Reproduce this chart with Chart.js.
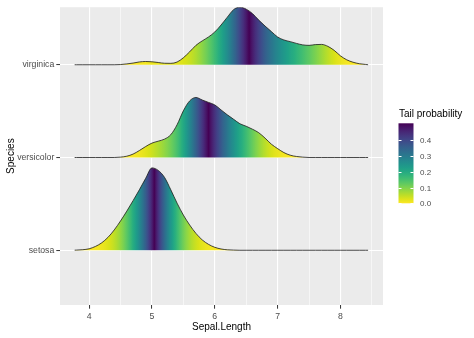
<!DOCTYPE html>
<html>
<head>
<meta charset="utf-8">
<script src="https://cdn.jsdelivr.net/npm/chart.js@4"></script>
<style>
  html, body { margin: 0; padding: 0; background: #fff; }
  #ridges { display: block; }
</style>
</head>
<body>
<canvas id="ridges" width="474" height="338"></canvas>
<script>
const species = ["setosa", "versicolor", "virginica"];

// density grid along Sepal.Length
const sepalLength = [3.77, 3.8, 3.9, 4.0, 4.1, 4.2, 4.3, 4.4, 4.5, 4.6, 4.7, 4.8, 4.9,
  5.0, 5.1, 5.2, 5.3, 5.4, 5.5, 5.6, 5.7, 5.8, 5.9, 6.0, 6.1, 6.2, 6.3, 6.4, 6.5,
  6.6, 6.7, 6.8, 6.9, 7.0, 7.1, 7.2, 7.3, 7.4, 7.5, 7.6, 7.7, 7.8, 7.9, 8.0, 8.1,
  8.2, 8.3, 8.4, 8.44];

// scaled ridge heights (in rows) at each grid point
const setosaHeight = [0.001, 0.002, 0.006, 0.016, 0.041, 0.080, 0.139, 0.219, 0.316,
  0.422, 0.535, 0.652, 0.775, 0.888, 0.861, 0.786, 0.652, 0.508, 0.380, 0.273, 0.182,
  0.112, 0.064, 0.032, 0.014, 0.005, 0.002, 0, 0, 0, 0, 0, 0, 0, 0, 0, 0, 0, 0, 0, 0,
  0, 0, 0, 0, 0, 0, 0, 0];
const versicolorHeight = [0, 0, 0, 0, 0, 0, 0, 0, 0.004, 0.014, 0.037, 0.075, 0.118,
  0.155, 0.176, 0.198, 0.246, 0.353, 0.503, 0.610, 0.647, 0.620, 0.594, 0.567, 0.513,
  0.460, 0.412, 0.364, 0.337, 0.305, 0.267, 0.209, 0.144, 0.096, 0.053, 0.025, 0.011,
  0.004, 0, 0, 0, 0, 0, 0, 0, 0, 0, 0, 0];
const virginicaHeight = [0, 0, 0, 0, 0, 0, 0, 0, 0.002, 0.009, 0.018, 0.030, 0.035,
  0.032, 0.024, 0.016, 0.015, 0.029, 0.075, 0.139, 0.209, 0.257, 0.299, 0.353, 0.428,
  0.513, 0.594, 0.620, 0.599, 0.551, 0.481, 0.417, 0.358, 0.299, 0.267, 0.249, 0.230,
  0.214, 0.209, 0.217, 0.219, 0.198, 0.155, 0.096, 0.053, 0.027, 0.011, 0.003, 0];

const xTicks = [4, 5, 6, 7, 8];
const xMinor = [4.5, 5.5, 6.5, 7.5, 8.5];
const tailTicks = [0.0, 0.1, 0.2, 0.3, 0.4];
const tailMax = 0.5;

const viridisStops = ["#440154", "#48186a", "#472d7b", "#424086", "#3b528b", "#33638d",
  "#2c728e", "#26828e", "#21918c", "#1fa088", "#28ae80", "#3fbc73", "#5ec962",
  "#84d44b", "#addc30", "#d8e219", "#fde725"];

function hexRgb(h) {
  return [parseInt(h.slice(1, 3), 16), parseInt(h.slice(3, 5), 16), parseInt(h.slice(5, 7), 16)];
}
const viridisRgb = viridisStops.map(hexRgb);

function viridis(u) {
  u = Math.max(0, Math.min(1, u));
  const f = u * (viridisRgb.length - 1);
  const i = Math.min(Math.floor(f), viridisRgb.length - 2);
  const t = f - i;
  const a = viridisRgb[i], b = viridisRgb[i + 1];
  const c = a.map((v, k) => Math.round(v + (b[k] - v) * t));
  return "rgb(" + c.join(",") + ")";
}

// tail probability colour: 0 -> yellow, 0.5 -> dark purple
function tailColor(p) {
  return viridis(1 - p / tailMax);
}

// cumulative area under each ridge, split finely so the median band stays narrow
function tailProfile(xs, hs) {
  const pts = [{ x: xs[0], F: 0 }];
  let area = 0;
  const sub = 10;
  for (let i = 1; i < xs.length; i++) {
    for (let k = 1; k <= sub; k++) {
      const xa = xs[i - 1] + (xs[i] - xs[i - 1]) * (k - 1) / sub;
      const xb = xs[i - 1] + (xs[i] - xs[i - 1]) * k / sub;
      const ha = hs[i - 1] + (hs[i] - hs[i - 1]) * (k - 1) / sub;
      const hb = hs[i - 1] + (hs[i] - hs[i - 1]) * k / sub;
      area += (ha + hb) / 2 * (xb - xa);
      pts.push({ x: xb, F: area });
    }
  }
  return pts.map(p => ({ x: p.x, tail: Math.min(p.F / area, 1 - p.F / area) }));
}

function ridgeFill(context) {
  const chart = context.chart;
  if (!chart.chartArea) return null;
  const ds = chart.data.datasets[context.datasetIndex];
  const xs = chart.scales.x;
  const p0 = xs.getPixelForValue(sepalLength[0]);
  const p1 = xs.getPixelForValue(sepalLength[sepalLength.length - 1]);
  const g = chart.ctx.createLinearGradient(p0, 0, p1, 0);
  ds.tailProfile.forEach(p => {
    const off = Math.max(0, Math.min(1, (xs.getPixelForValue(p.x) - p0) / (p1 - p0)));
    g.addColorStop(off, tailColor(p.tail));
  });
  return g;
}

const heights = [setosaHeight, versicolorHeight, virginicaHeight];

const datasets = species.map((name, i) => {
  const base = i + 1;
  return {
    label: name,
    data: sepalLength.map((x, j) => ({ x: x, y: base + heights[i][j] })),
    tailProfile: tailProfile(sepalLength, heights[i]),
    fill: { value: base },
    backgroundColor: ridgeFill,
    borderColor: "#1a1a1a",
    borderWidth: 0.8,
    pointRadius: 0,
    cubicInterpolationMode: "monotone"
  };
});

const fontFamily = "'Liberation Sans', Arial, sans-serif";

// grey panel behind the grid
const panelBackground = {
  id: "panelBackground",
  beforeDraw(chart) {
    const { ctx, chartArea: a } = chart;
    ctx.save();
    ctx.fillStyle = "#EBEBEB";
    ctx.fillRect(a.left, a.top, a.right - a.left, a.bottom - a.top);
    ctx.restore();
  }
};

// continuous colour bar for tail probability
const tailLegend = {
  id: "tailLegend",
  afterDraw(chart) {
    const ctx = chart.ctx;
    const left = 398.5, width = 15;
    const yZero = 203.3, perUnit = 158;
    const top = yZero - tailMax * perUnit - 1;
    ctx.save();
    ctx.fillStyle = "#000";
    ctx.font = "10px " + fontFamily;
    ctx.textAlign = "left";
    ctx.textBaseline = "middle";
    ctx.fillText("Tail probability", 399, 114);

    const g = ctx.createLinearGradient(0, yZero, 0, top);
    for (let s = 0; s <= 20; s++) {
      g.addColorStop(s / 20, tailColor(tailMax * s / 20));
    }
    ctx.fillStyle = g;
    ctx.fillRect(left, top, width, yZero - top);

    ctx.strokeStyle = "#fff";
    ctx.lineWidth = 1;
    ctx.fillStyle = "#4D4D4D";
    ctx.font = "8px " + fontFamily;
    tailTicks.forEach(v => {
      const y = Math.round(yZero - v * perUnit) + 0.5;
      ctx.beginPath();
      ctx.moveTo(left, y); ctx.lineTo(left + 3, y);
      ctx.moveTo(left + width - 3, y); ctx.lineTo(left + width, y);
      ctx.stroke();
      ctx.fillText(v.toFixed(1), 420, y);
    });
    ctx.restore();
  }
};

new Chart(document.getElementById("ridges"), {
  type: "line",
  data: { datasets: datasets },
  plugins: [panelBackground, tailLegend],
  options: {
    responsive: false,
    animation: false,
    events: [],
    layout: { padding: { top: 5, right: 91, left: 0, bottom: 0 } },
    plugins: { legend: { display: false }, tooltip: { enabled: false } },
    scales: {
      x: {
        type: "linear",
        min: 3.537,
        max: 8.677,
        afterBuildTicks: s => {
          s.ticks = xTicks.concat(xMinor).sort((a, b) => a - b).map(v => ({ value: v }));
        },
        afterFit: s => { s.height = 33; },
        border: { display: false },
        grid: {
          color: "#fff",
          lineWidth: c => Number.isInteger(c.tick.value) ? 1.1 : 0.55,
          tickColor: c => Number.isInteger(c.tick.value) ? "#333" : "rgba(0,0,0,0)",
          tickLength: 3.7,
          tickWidth: 1
        },
        ticks: {
          autoSkip: false,
          maxRotation: 0,
          padding: 2.6,
          color: "#4D4D4D",
          font: { size: 8.7, family: fontFamily },
          callback: v => Number.isInteger(v) ? String(v) : ""
        },
        title: {
          display: true,
          text: "Sepal.Length",
          color: "#000",
          font: { size: 10, family: fontFamily },
          padding: { top: 0, bottom: 4.5 }
        }
      },
      y: {
        type: "linear",
        min: 0.41,
        max: 3.62,
        afterBuildTicks: s => { s.ticks = [1, 2, 3].map(v => ({ value: v })); },
        afterFit: s => { s.width = 60; },
        border: { display: false },
        grid: {
          color: "#fff",
          lineWidth: 1.1,
          tickColor: "#333",
          tickLength: 3.7,
          tickWidth: 1
        },
        ticks: {
          padding: 2,
          color: "#4D4D4D",
          font: { size: 8.7, family: fontFamily },
          callback: v => species[Math.round(v) - 1]
        },
        title: {
          display: true,
          text: "Species",
          color: "#000",
          font: { size: 10, family: fontFamily },
          padding: { top: 5, bottom: 0 }
        }
      }
    }
  }
});
</script>
</body>
</html>
